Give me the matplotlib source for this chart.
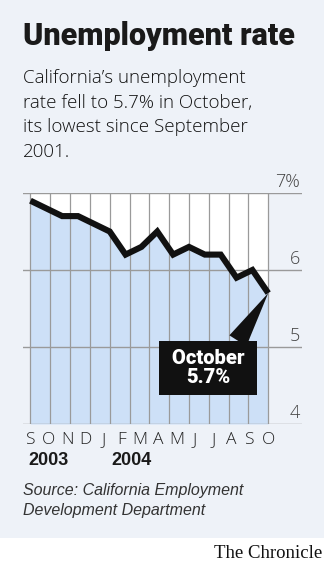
import matplotlib.pyplot as plt
from matplotlib.patches import Rectangle
import numpy as np

# unemployment rate, monthly points as drawn (Sept 2003 -> Oct 2004)
rates = [6.9, 6.8, 6.7, 6.7, 6.6, 6.5, 6.2, 6.3, 6.5, 6.2, 6.3, 6.2, 6.2, 5.9, 6.0, 5.7]
months = ["S", "O", "N", "D", "J", "F", "M", "A", "M", "J", "J", "A", "S", "O"]
years = ["2003", "2004"]
y_ticks = [7, 6, 5, 4]
y_tick_labels = ["7%", "6", "5", "4"]

BG = "#eef2f8"
FILL = "#cde0f7"
GRID = "#9a9a9a"

W, H = 324, 562
fig = plt.figure(figsize=(W / 100, H / 100), dpi=100, facecolor="white")

# light background panel, white strip at the bottom for the credit
fig.patches.append(Rectangle((0, 1 - 538 / H), 1, 538 / H, transform=fig.transFigure,
                             facecolor=BG, edgecolor="none", zorder=-5))

def fx(px):
    return px / W

def fy(py):
    return 1 - py / H

ax = fig.add_axes([fx(23), fy(424), fx(302) - fx(23), fy(193) - fy(424)])
ax.set_zorder(2)
ax.set_facecolor("none")
x = np.arange(len(rates))
ax.set_xlim(-0.47, 17.13)
ax.set_ylim(4, 7)

# white plot area above the line, blue under it
ax.fill_between(x, 4, 7, color="white", lw=0, zorder=1)
ax.fill_between(x, 4, rates, color=FILL, lw=0, zorder=2)

# grid
for gx in np.linspace(x[0], x[-1], 13):
    ax.plot([gx, gx], [4, 7], color=GRID, lw=0.9, zorder=3)
for v in y_ticks:
    ax.axhline(v, color=GRID, lw=1.0, zorder=3)

ax.plot(x, rates, color="#111111", lw=4.4, solid_joinstyle="miter", solid_capstyle="butt", zorder=5)

for sp in ax.spines.values():
    sp.set_visible(False)
ax.set_xticks([])
ax.set_yticks([])

# y labels on the right, sitting above their lines
for v, lbl in zip(y_ticks, y_tick_labels):
    ax.text(0.993, v + 0.03, lbl, transform=ax.get_yaxis_transform(), ha="right", va="bottom",
            fontsize=13, color="#444444", family="Open Sans", weight="light")

# month labels
label_x = np.linspace(x[0], x[-1], len(months))
for lx, m in zip(label_x, months):
    ax.text(lx, -0.069, m, transform=ax.get_xaxis_transform(), ha="center", va="center",
            fontsize=12.5, color="#222222", family="Open Sans", weight="light")
ax.text(label_x[1], -0.156, years[0], transform=ax.get_xaxis_transform(), ha="center", va="center",
        fontsize=13, color="#1a1a1a", family="Liberation Sans", weight="bold")
ax.text((label_x[5] + label_x[6]) / 2, -0.156, years[1], transform=ax.get_xaxis_transform(),
        ha="center", va="center", fontsize=13, color="#1a1a1a", family="Liberation Sans", weight="bold")

# callout
ax.annotate(" October \n5.7%", xy=(x[-1], rates[-1]), xytext=(11.2, 4.73), textcoords="data",
            ha="center", va="center", color="white", fontsize=14.5, weight="black",
            family="Roboto", linespacing=1.0,
            bbox=dict(boxstyle="square,pad=0.4", fc="#111111", ec="none"),
            arrowprops=dict(arrowstyle="wedge,tail_width=1.0,shrink_factor=0.5", fc="#111111", ec="none",
                            relpos=(0.8, 1.0), shrinkA=0, shrinkB=0),
            zorder=6)

# texts
fig.text(fx(23), fy(45), "Unemployment rate", ha="left", va="baseline", fontsize=22, weight="black",
         color="#1a1a1a", family="Roboto")
sub = ["California\u2019s unemployment", "rate fell to 5.7% in October,",
       "its lowest since September", "2001."]
for i, line in enumerate(sub):
    fig.text(fx(23), fy(83 + 24.7 * i), line, ha="left", va="baseline", fontsize=13.5,
             color="#111111", family="Open Sans", weight="light")
fig.text(fx(23), fy(495), "Source: California Employment", ha="left", va="baseline", fontsize=11.5,
         style="italic", color="#333333", family="Liberation Sans")
fig.text(fx(23), fy(515), "Development Department", ha="left", va="baseline", fontsize=11.5,
         style="italic", color="#333333", family="Liberation Sans")
fig.text(fx(322), fy(558), "The Chronicle", ha="right", va="baseline", fontsize=13.5,
         color="#111111", family="Liberation Serif")

fig.savefig("out.png", dpi=100, facecolor="white")
